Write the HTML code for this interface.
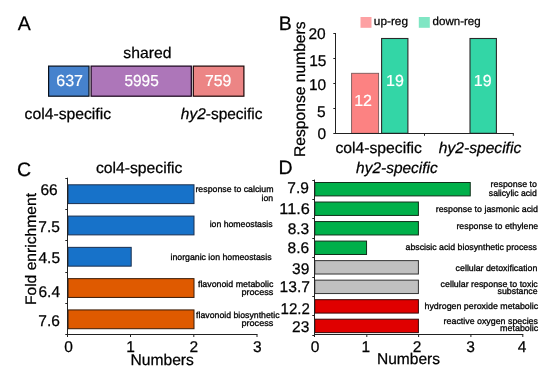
<!DOCTYPE html>
<html><head><meta charset="utf-8">
<style>
html,body{margin:0;padding:0;background:#fff;}
body{width:550px;height:377px;overflow:hidden;}
svg{display:block;}
text{font-family:"Liberation Sans",Arial,Helvetica,sans-serif;text-rendering:geometricPrecision;}
text[fill="#000"]{stroke:#000;stroke-width:0.25px;}
text[font-size="8.70"]{stroke-width:0.3px;}
text[fill="#fff"]{stroke:#fff;stroke-width:0.2px;}

</style></head><body>
<svg width="550" height="377" viewBox="0 0 550 377">
<rect width="550" height="377" fill="#fff"/>

<rect x="48.6" y="66.1" width="40.4" height="30.1" fill="#4682cd" stroke="#08101c" stroke-width="1.2"/>
<rect x="91.1" y="66.1" width="100.2" height="30.1" fill="#ad76b9" stroke="#140018" stroke-width="1.2"/>
<rect x="193.3" y="66.1" width="50.6" height="30.1" fill="#ec8585" stroke="#1c0606" stroke-width="1.2"/>
<rect x="360.5" y="17" width="11" height="10.8" fill="#fda1a3"/>
<rect x="418.8" y="17" width="11" height="10.8" fill="#80e6c4"/>
<rect x="351.6" y="73.3" width="27" height="60" fill="#fc8282" stroke="#7a5a5a" stroke-width="0.9"/>
<rect x="381.6" y="38.5" width="26.3" height="94.8" fill="#33d6a6" stroke="#2a2a2a" stroke-width="1.1"/>
<rect x="470" y="38.5" width="26.4" height="94.8" fill="#33d6a6" stroke="#2a2a2a" stroke-width="1.1"/>
<g stroke="#222" stroke-width="1"><line x1="335.5" y1="33" x2="335.5" y2="134"/><line x1="333.3" y1="33.5" x2="335.5" y2="33.5"/><line x1="333.3" y1="58.5" x2="335.5" y2="58.5"/><line x1="333.3" y1="83.5" x2="335.5" y2="83.5"/><line x1="333.3" y1="108.5" x2="335.5" y2="108.5"/><line x1="333.3" y1="133.5" x2="335.5" y2="133.5"/><line x1="335" y1="133.5" x2="513.8" y2="133.5"/><line x1="424.5" y1="133.5" x2="424.5" y2="135.8"/><line x1="513.3" y1="133.5" x2="513.3" y2="135.8"/></g>
<rect x="68.10" y="184.80" width="125.90" height="18.8" fill="#1772c9" stroke="#1b2f4f" stroke-width="1"/>
<rect x="68.10" y="216.08" width="125.90" height="18.8" fill="#1772c9" stroke="#1b2f4f" stroke-width="1"/>
<rect x="68.10" y="247.36" width="63.10" height="18.8" fill="#1772c9" stroke="#1b2f4f" stroke-width="1"/>
<rect x="68.10" y="278.64" width="125.90" height="18.8" fill="#df5a00" stroke="#3a1c08" stroke-width="1"/>
<rect x="68.10" y="309.92" width="125.90" height="18.8" fill="#df5a00" stroke="#3a1c08" stroke-width="1"/>
<g stroke="#222" stroke-width="1"><line x1="67.5" y1="177.7" x2="67.5" y2="335"/><line x1="65.3" y1="178.50" x2="67.5" y2="178.50"/><line x1="65.3" y1="209.50" x2="67.5" y2="209.50"/><line x1="65.3" y1="240.50" x2="67.5" y2="240.50"/><line x1="65.3" y1="272.50" x2="67.5" y2="272.50"/><line x1="65.3" y1="303.50" x2="67.5" y2="303.50"/><line x1="65.3" y1="334.50" x2="67.5" y2="334.50"/><line x1="67" y1="334.5" x2="257.5" y2="334.5"/><line x1="67.50" y1="334.5" x2="67.50" y2="337"/><line x1="130.50" y1="334.5" x2="130.50" y2="337"/><line x1="193.80" y1="334.5" x2="193.80" y2="337"/><line x1="257.00" y1="334.5" x2="257.00" y2="337"/></g>
<rect x="314.80" y="182.50" width="155.45" height="13.4" fill="#00b04a" stroke="#10301a" stroke-width="1"/>
<rect x="314.80" y="202.03" width="103.60" height="13.4" fill="#00b04a" stroke="#10301a" stroke-width="1"/>
<rect x="314.80" y="221.56" width="103.60" height="13.4" fill="#00b04a" stroke="#10301a" stroke-width="1"/>
<rect x="314.80" y="241.09" width="51.75" height="13.4" fill="#00b04a" stroke="#10301a" stroke-width="1"/>
<rect x="314.80" y="260.62" width="103.60" height="13.4" fill="#c0c0c0" stroke="#333333" stroke-width="1"/>
<rect x="314.80" y="280.15" width="103.60" height="13.4" fill="#c0c0c0" stroke="#333333" stroke-width="1"/>
<rect x="314.80" y="299.68" width="103.60" height="13.4" fill="#e00000" stroke="#3a0808" stroke-width="1"/>
<rect x="314.80" y="319.21" width="103.60" height="13.4" fill="#e00000" stroke="#3a0808" stroke-width="1"/>
<g stroke="#222" stroke-width="1"><line x1="314.5" y1="179.6" x2="314.5" y2="335"/><line x1="312.3" y1="180.50" x2="314.5" y2="180.50"/><line x1="312.3" y1="199.50" x2="314.5" y2="199.50"/><line x1="312.3" y1="218.50" x2="314.5" y2="218.50"/><line x1="312.3" y1="238.50" x2="314.5" y2="238.50"/><line x1="312.3" y1="257.50" x2="314.5" y2="257.50"/><line x1="312.3" y1="277.50" x2="314.5" y2="277.50"/><line x1="312.3" y1="296.50" x2="314.5" y2="296.50"/><line x1="312.3" y1="315.50" x2="314.5" y2="315.50"/><line x1="312.3" y1="335.50" x2="314.5" y2="335.50"/><line x1="314" y1="334.5" x2="523.3" y2="334.5"/><line x1="314.50" y1="334.5" x2="314.50" y2="337"/><line x1="366.80" y1="334.5" x2="366.80" y2="337"/><line x1="418.60" y1="334.5" x2="418.60" y2="337"/><line x1="470.90" y1="334.5" x2="470.90" y2="337"/><line x1="522.80" y1="334.5" x2="522.80" y2="337"/></g>
<text id="A" x="17.84" y="29.70" font-size="19.50" fill="#000">A</text>
<text id="shared" x="123.34" y="58.40" font-size="15.50" fill="#000" textLength="48.13" lengthAdjust="spacingAndGlyphs">shared</text>
<text id="n637" x="56.24" y="85.50" font-size="16.00" fill="#fff">637</text>
<text id="n5995" x="124.46" y="85.50" font-size="16.00" fill="#fff" textLength="34.28" lengthAdjust="spacingAndGlyphs">5995</text>
<text id="n759" x="204.98" y="85.50" font-size="16.00" fill="#fff" textLength="26.44" lengthAdjust="spacingAndGlyphs">759</text>
<text id="a_col4" x="24.56" y="119.00" font-size="15.50" fill="#000" textLength="86.52" lengthAdjust="spacingAndGlyphs">col4-specific</text>
<text id="a_hy2" x="180.86" y="119.00" font-size="15.50" fill="#000" textLength="81.62" lengthAdjust="spacingAndGlyphs"><tspan font-style="italic">hy2</tspan>-specific</text>
<text id="B" x="278.87" y="29.70" font-size="19.50" fill="#000">B</text>
<text id="upreg" x="373.89" y="25.00" font-size="11.60" fill="#000" textLength="34.09" lengthAdjust="spacingAndGlyphs">up-reg</text>
<text id="downreg" x="432.62" y="25.20" font-size="11.60" fill="#000" textLength="48.09" lengthAdjust="spacingAndGlyphs">down-reg</text>
<text id="resp" transform="translate(304.80,156.94) rotate(-90)" font-size="15.50" fill="#000" textLength="135.49" lengthAdjust="spacingAndGlyphs">Response numbers</text>
<text id="b20" x="308.41" y="38.50" font-size="15.50" fill="#000">20</text>
<text id="b15" x="309.24" y="65.80" font-size="15.50" fill="#000">15</text>
<text id="b10" x="308.97" y="90.20" font-size="15.50" fill="#000">10</text>
<text id="b5" x="317.12" y="116.50" font-size="15.50" fill="#000">5</text>
<text id="b0" x="317.58" y="139.20" font-size="15.50" fill="#000">0</text>
<text id="b12" x="354.13" y="105.80" font-size="16.00" fill="#fff">12</text>
<text id="b19a" x="385.99" y="86.30" font-size="16.00" fill="#fff">19</text>
<text id="b19b" x="473.80" y="86.30" font-size="16.00" fill="#fff">19</text>
<text id="b_col4" x="335.40" y="152.60" font-size="15.50" fill="#000" textLength="86.54" lengthAdjust="spacingAndGlyphs">col4-specific</text>
<text id="b_hy2" x="438.80" y="152.60" font-size="15.50" font-style="italic" fill="#000" textLength="82.42" lengthAdjust="spacingAndGlyphs">hy2-specific</text>
<text id="C" x="17.09" y="176.40" font-size="19.50" fill="#000">C</text>
<text id="c_title" x="95.95" y="172.80" font-size="15.50" fill="#000" textLength="86.50" lengthAdjust="spacingAndGlyphs">col4-specific</text>
<text id="fold" transform="translate(36.00,305.09) rotate(-90)" font-size="15.20" fill="#000" textLength="112.08" lengthAdjust="spacingAndGlyphs">Fold enrichment</text>
<text id="c66" x="40.49" y="195.00" font-size="15.50" fill="#000">66</text>
<text id="c75" x="38.34" y="231.50" font-size="15.50" fill="#000">7.5</text>
<text id="c45" x="38.46" y="263.30" font-size="15.50" fill="#000">4.5</text>
<text id="c64" x="38.48" y="297.20" font-size="15.50" fill="#000">6.4</text>
<text id="c76" x="38.35" y="326.40" font-size="15.50" fill="#000">7.6</text>
<text id="cx0" x="64.18" y="352.20" font-size="15.50" fill="#000">0</text>
<text id="cx1" x="126.22" y="352.20" font-size="15.50" fill="#000">1</text>
<text id="cx2" x="189.39" y="352.20" font-size="15.50" fill="#000">2</text>
<text id="cx3" x="253.11" y="352.20" font-size="15.50" fill="#000">3</text>
<text id="c_num" x="130.51" y="365.30" font-size="15.50" fill="#000" textLength="63.36" lengthAdjust="spacingAndGlyphs">Numbers</text>
<text id="cl1" x="195.44" y="192.00" font-size="8.70" fill="#000" textLength="78.03" lengthAdjust="spacingAndGlyphs">response to calcium</text>
<text id="cl1b" x="261.46" y="200.60" font-size="8.70" fill="#000">ion</text>
<text id="cl2" x="209.65" y="227.20" font-size="8.70" fill="#000" textLength="62.89" lengthAdjust="spacingAndGlyphs">ion homeostasis</text>
<text id="cl3" x="170.49" y="260.30" font-size="8.70" fill="#000" textLength="101.02" lengthAdjust="spacingAndGlyphs">inorganic ion homeostasis</text>
<text id="cl4" x="197.94" y="287.00" font-size="8.70" fill="#000" textLength="75.48" lengthAdjust="spacingAndGlyphs">flavonoid metabolic</text>
<text id="cl4b" x="241.41" y="295.20" font-size="8.70" fill="#000" textLength="31.98" lengthAdjust="spacingAndGlyphs">process</text>
<text id="cl5" x="196.13" y="318.00" font-size="8.70" fill="#000" textLength="83.43" lengthAdjust="spacingAndGlyphs">flavonoid biosynthetic</text>
<text id="cl5b" x="241.41" y="326.00" font-size="8.70" fill="#000" textLength="31.98" lengthAdjust="spacingAndGlyphs">process</text>
<text id="D" x="278.59" y="173.80" font-size="19.50" fill="#000">D</text>
<text id="d_title" x="356.09" y="173.30" font-size="15.50" font-style="italic" fill="#000" textLength="81.68" lengthAdjust="spacingAndGlyphs">hy2-specific</text>
<text id="d1" x="287.34" y="193.20" font-size="15.50" fill="#000">7.9</text>
<text id="d2" x="279.35" y="214.00" font-size="15.50" fill="#000" textLength="30.54" lengthAdjust="spacingAndGlyphs">11.6</text>
<text id="d3" x="287.63" y="234.30" font-size="15.50" fill="#000">8.3</text>
<text id="d4" x="287.61" y="253.00" font-size="15.50" fill="#000">8.6</text>
<text id="d5" x="292.11" y="273.80" font-size="15.50" fill="#000">39</text>
<text id="d6" x="279.59" y="292.00" font-size="15.50" fill="#000" textLength="30.40" lengthAdjust="spacingAndGlyphs">13.7</text>
<text id="d7" x="280.52" y="314.30" font-size="15.50" fill="#000" textLength="29.35" lengthAdjust="spacingAndGlyphs">12.2</text>
<text id="d8" x="292.03" y="332.00" font-size="15.50" fill="#000">23</text>
<text id="dx0" x="310.66" y="352.10" font-size="15.50" fill="#000">0</text>
<text id="dx1" x="361.60" y="352.10" font-size="15.50" fill="#000">1</text>
<text id="dx2" x="412.65" y="352.10" font-size="15.50" fill="#000">2</text>
<text id="dx3" x="466.33" y="352.10" font-size="15.50" fill="#000">3</text>
<text id="dx4" x="517.84" y="352.10" font-size="15.50" fill="#000">4</text>
<text id="d_num" x="376.96" y="364.00" font-size="15.50" fill="#000" textLength="63.02" lengthAdjust="spacingAndGlyphs">Numbers</text>
<text id="dl1" x="490.61" y="187.20" font-size="8.70" fill="#000" textLength="46.33" lengthAdjust="spacingAndGlyphs">response to</text>
<text id="dl1b" x="488.83" y="195.90" font-size="8.70" fill="#000" textLength="48.02" lengthAdjust="spacingAndGlyphs">salicylic acid</text>
<text id="dl2" x="435.75" y="211.80" font-size="8.70" fill="#000" textLength="102.27" lengthAdjust="spacingAndGlyphs">response to jasmonic acid</text>
<text id="dl3" x="456.42" y="228.60" font-size="8.70" fill="#000" textLength="81.82" lengthAdjust="spacingAndGlyphs">response to ethylene</text>
<text id="dl4" x="405.52" y="250.10" font-size="8.70" fill="#000" textLength="131.49" lengthAdjust="spacingAndGlyphs">abscisic acid biosynthetic process</text>
<text id="dl5" x="455.63" y="270.90" font-size="8.70" fill="#000" textLength="81.76" lengthAdjust="spacingAndGlyphs">cellular detoxification</text>
<text id="dl6" x="440.63" y="286.90" font-size="8.70" fill="#000" textLength="97.16" lengthAdjust="spacingAndGlyphs">cellular response to toxic</text>
<text id="dl6b" x="497.61" y="294.30" font-size="8.70" fill="#000" textLength="39.99" lengthAdjust="spacingAndGlyphs">substance</text>
<text id="dl7" x="424.53" y="308.80" font-size="8.70" fill="#000" textLength="113.61" lengthAdjust="spacingAndGlyphs">hydrogen peroxide metabolic</text>
<text id="dl8" x="443.61" y="323.60" font-size="8.70" fill="#000" textLength="94.35" lengthAdjust="spacingAndGlyphs">reactive oxygen species</text>
<text id="dl8b" x="500.13" y="330.90" font-size="8.70" fill="#000" textLength="38.10" lengthAdjust="spacingAndGlyphs">metabolic</text>
</svg>
</body></html>
